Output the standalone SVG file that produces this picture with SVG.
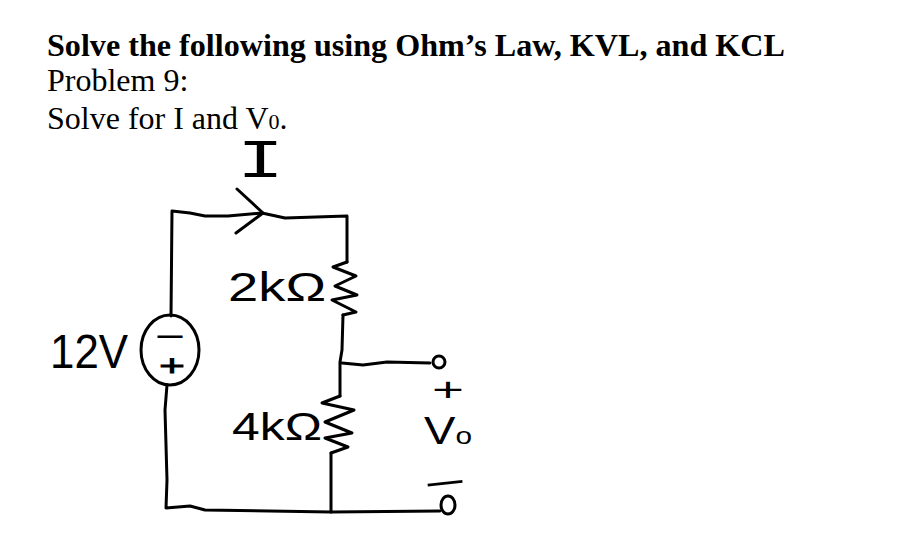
<svg xmlns="http://www.w3.org/2000/svg" width="902" height="534" viewBox="0 0 902 534">
<style>
.w{fill:none;stroke:#000;stroke-width:3;stroke-linecap:round;stroke-linejoin:round}
.h{font-family:"Liberation Serif","Times New Roman",serif;font-size:32px;fill:#000}
.b{font-weight:bold}
.l{font-family:"Liberation Sans",Arial,sans-serif;fill:#000}
.t{stroke:#000;stroke-width:.8}
</style>
<rect width="902" height="534" fill="#fff"/>
<g id="heading">
<text class="h b" x="47" y="56" textLength="738" lengthAdjust="spacingAndGlyphs">Solve the following using Ohm’s Law, KVL, and KCL</text>
<text class="h" x="47" y="91">Problem 9:</text>
<text class="h" x="47" y="129">Solve for I and V<tspan font-size="22">0</tspan>.</text>
</g>
<g id="connectors">
<path class="w" d="M171 316L172 211L190 213L205 216L228 216L262 213L285 218L347 216L347 262"/>
<path class="w" d="M237 189L263 213L236 233"/>
<path class="w" d="M343 315L342 350L340 362L340 396"/>
<path class="w" d="M342 363L363 365L387 362L430 363"/>
<path class="w" d="M331 453L331 512"/>
<path class="w" d="M167 385L165 410L167 480L166 508L190 506L205 510L331 512L440 511"/>
</g>
<g id="source">
<ellipse class="w" cx="170" cy="350" rx="29" ry="35"/>
<text class="l t" x="156" y="343.5" font-size="22" textLength="28" lengthAdjust="spacingAndGlyphs">−</text>
<text class="l t" x="159" y="375.5" font-size="30" textLength="26" lengthAdjust="spacingAndGlyphs">+</text>
<text class="l" x="50" y="368" font-size="48" textLength="78" lengthAdjust="spacingAndGlyphs">12V</text>
</g>
<g id="r1">
<path class="w" d="M347 262L333 267L356 276L335 286L357 295L332 300L356 312L343 315"/>
<text class="l" x="228" y="301" font-size="40" textLength="98" lengthAdjust="spacingAndGlyphs">2kΩ</text>
</g>
<g id="r2">
<path class="w" d="M340 396L322 403L354 410L325 422L352 433L325 438L348 447L331 453"/>
<text class="l" x="232" y="440" font-size="38" textLength="90" lengthAdjust="spacingAndGlyphs">4kΩ</text>
</g>
<g id="current-label">
<text x="237" y="177" font-family="Liberation Mono,monospace" font-size="54" textLength="47" lengthAdjust="spacingAndGlyphs">I</text>
</g>
<g id="terminal-top"><circle class="w" cx="439" cy="362" r="6"/></g>
<g id="terminal-bottom"><ellipse class="w" cx="448" cy="505" rx="7" ry="9"/></g>
<g id="output-label">
<text class="l" x="432" y="401" font-size="34" textLength="32" lengthAdjust="spacingAndGlyphs">+</text>
<text class="l" x="424" y="444" font-size="38" textLength="48" lengthAdjust="spacingAndGlyphs">V<tspan font-size="24">o</tspan></text>
<text class="l" x="424" y="496" font-size="38" textLength="42" lengthAdjust="spacingAndGlyphs" transform="rotate(-6 445 483)">−</text>
</g>
</svg>
